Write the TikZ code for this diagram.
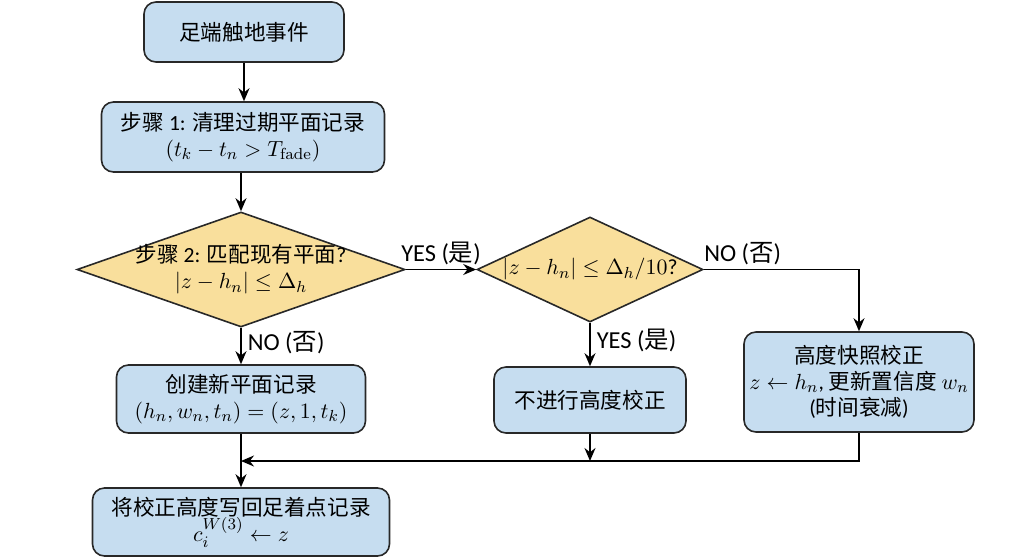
\documentclass[tikz,border=0pt]{standalone}
\usepackage[no-math]{fontspec}
\setmainfont{Carlito}
\newfontfamily\cjk{Noto Sans CJK SC}
\usetikzlibrary{shapes.geometric,arrows.meta}
\definecolor{boxfill}{RGB}{198,221,240}
\definecolor{dfill}{RGB}{249,223,156}
\definecolor{edge}{RGB}{40,40,40}
\tikzset{
  procbox/.style={draw=edge,line width=0.8pt,fill=boxfill,rounded corners=6pt,align=center,inner sep=2pt,font=\fontsize{10.8}{13}\selectfont},
  decis/.style={draw=edge,line width=0.8pt,fill=dfill,diamond,inner sep=0pt},
  dtext/.style={align=center,inner sep=0pt,font=\fontsize{10.8}{13}\selectfont},
  conn/.style={draw=black,line width=0.8pt,-{Stealth[length=6.5pt,width=5.5pt]}},
  lbl/.style={font=\fontsize{12.2}{14}\selectfont,inner sep=1pt}
}
\begin{document}
\begin{tikzpicture}[x=0.5pt,y=-0.5pt]
\useasboundingbox (0,0) rectangle (1024,559);
\node[procbox,minimum width=100pt,minimum height=30pt] (n1) at (244,32) {\cjk 足端触地事件};
\node[procbox,minimum width=141.5pt,minimum height=35pt] (n2) at (243,137) {{\cjk 步骤} 1: {\cjk 清理过期平面记录}\\$(t_k - t_n > T_{\mathrm{fade}})$};
\node[decis,minimum width=164pt,minimum height=57.5pt] (d1) at (241,269.5) {};
\node[dtext] (d1t) at (d1.center) {{\cjk 步骤} 2: {\cjk 匹配现有平面}?\\$|z - h_n| \le \Delta_h$};
\node[decis,minimum width=113pt,minimum height=52.5pt] (d2) at (590,269.5) {};
\node[dtext] (d2t) at (d2.center) {$|z - h_n| \le \Delta_h/10$?};
\node[procbox,minimum width=124.5pt,minimum height=34pt] (n3) at (241,399) {{\cjk 创建新平面记录}\\$(h_n, w_n, t_n) = (z, 1, t_k)$};
\node[procbox,minimum width=96pt,minimum height=33pt] (n4) at (590,400) {\cjk 不进行高度校正};
\node[procbox,minimum width=115pt,minimum height=50pt] (n5) at (859,382) {{\cjk 高度快照校正}\\$z \leftarrow h_n$, {\cjk 更新置信度} $w_n$\\({\cjk 时间衰减})};
\node[procbox,minimum width=148.5pt,minimum height=34pt] (n6) at (241,522) {{\cjk 将校正高度写回足着点记录}\\$c_i^{W(3)} \leftarrow z$};
\coordinate (m) at (241,461);
\coordinate (m2) at (590,461);
\draw[conn] (n1.south) -- (n1.south |- n2.north);
\draw[conn] (n2.south -| d1.north) -- (d1.north);
\draw[conn] (d1.east) -- node[lbl,above=1pt] {YES ({\cjk 是})} (d2.west);
\draw[conn] (d1.south) -- node[lbl,right=2pt,pos=0.4] {NO ({\cjk 否})} (n3.north);
\draw[conn] (d2.south) -- node[lbl,right=2pt,pos=0.4] {YES ({\cjk 是})} (n4.north);
\draw[conn] (d2.east) -- node[lbl,above=1pt,pos=0.25] {NO ({\cjk 否})} (d2.east -| n5.north) -- (n5.north);
\draw[conn] (n3.south) -- (n6.north);
\draw[conn] (n4.south) -- (m2);
\draw[conn] (n5.south) -- (n5.south |- m) -- (m);
\end{tikzpicture}
\end{document}
